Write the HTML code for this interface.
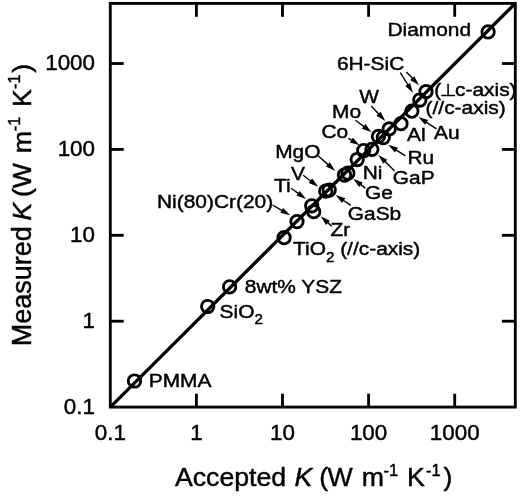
<!DOCTYPE html>
<html><head><meta charset="utf-8"><title>Measured K vs Accepted K</title>
<style>html,body{margin:0;padding:0;background:#fff}svg{display:block}text{font-family:"Liberation Sans",Arial,sans-serif;fill:#000;stroke:#000;stroke-width:0.45px;stroke-linejoin:round}</style>
</head><body>
<svg width="520" height="496" viewBox="0 0 520 496">
<rect width="520" height="496" fill="#fff"/>
<defs><filter id="soft" x="-2%" y="-2%" width="104%" height="104%"><feGaussianBlur stdDeviation="0.45"/></filter></defs>
<g filter="url(#soft)">
<line x1="110.3" y1="407.1" x2="515.3" y2="3.4" stroke="#000" stroke-width="3.3"/>
<rect x="110.3" y="3.4" width="404.99999999999994" height="403.70000000000005" fill="none" stroke="#000" stroke-width="2.85"/>
<line x1="196.40" y1="407.1" x2="196.40" y2="393.70000000000005" stroke="#000" stroke-width="2.85"/>
<line x1="196.40" y1="3.4" x2="196.40" y2="16.8" stroke="#000" stroke-width="2.85"/>
<line x1="110.3" y1="321.20" x2="123.7" y2="321.20" stroke="#000" stroke-width="2.85"/>
<line x1="515.3" y1="321.20" x2="501.9" y2="321.20" stroke="#000" stroke-width="2.85"/>
<line x1="282.50" y1="407.1" x2="282.50" y2="393.70000000000005" stroke="#000" stroke-width="2.85"/>
<line x1="282.50" y1="3.4" x2="282.50" y2="16.8" stroke="#000" stroke-width="2.85"/>
<line x1="110.3" y1="235.30" x2="123.7" y2="235.30" stroke="#000" stroke-width="2.85"/>
<line x1="515.3" y1="235.30" x2="501.9" y2="235.30" stroke="#000" stroke-width="2.85"/>
<line x1="368.60" y1="407.1" x2="368.60" y2="393.70000000000005" stroke="#000" stroke-width="2.85"/>
<line x1="368.60" y1="3.4" x2="368.60" y2="16.8" stroke="#000" stroke-width="2.85"/>
<line x1="110.3" y1="149.40" x2="123.7" y2="149.40" stroke="#000" stroke-width="2.85"/>
<line x1="515.3" y1="149.40" x2="501.9" y2="149.40" stroke="#000" stroke-width="2.85"/>
<line x1="454.70" y1="407.1" x2="454.70" y2="393.70000000000005" stroke="#000" stroke-width="2.85"/>
<line x1="454.70" y1="3.4" x2="454.70" y2="16.8" stroke="#000" stroke-width="2.85"/>
<line x1="110.3" y1="63.50" x2="123.7" y2="63.50" stroke="#000" stroke-width="2.85"/>
<line x1="515.3" y1="63.50" x2="501.9" y2="63.50" stroke="#000" stroke-width="2.85"/>
<text x="110.30" y="440" font-size="22.4" text-anchor="middle">0.1</text>
<text x="95" y="413.90" font-size="22.4" text-anchor="end">0.1</text>
<text x="196.40" y="440" font-size="22.4" text-anchor="middle">1</text>
<text x="95" y="328.00" font-size="22.4" text-anchor="end">1</text>
<text x="282.50" y="440" font-size="22.4" text-anchor="middle">10</text>
<text x="95" y="242.10" font-size="22.4" text-anchor="end">10</text>
<text x="368.60" y="440" font-size="22.4" text-anchor="middle">100</text>
<text x="95" y="156.20" font-size="22.4" text-anchor="end">100</text>
<text x="454.70" y="440" font-size="22.4" text-anchor="middle">1000</text>
<text x="95" y="70.30" font-size="22.4" text-anchor="end">1000</text>
<text transform="translate(174.9,486.4)" font-size="26.7"><tspan x="0.0" y="0" font-size="26.7">Accepted </tspan><tspan x="119.5" y="0" font-size="26.7" font-style="italic">K </tspan><tspan x="144.3" y="0" font-size="26.7">(</tspan><tspan x="152.6" y="0" font-size="26.7">W </tspan><tspan x="186.9" y="0" font-size="26.7">m</tspan><tspan x="208.5" y="-10.9" font-size="16.5">-1 </tspan><tspan x="232.0" y="0" font-size="26.7">K</tspan><tspan x="251.0" y="-10.9" font-size="16.5">-1</tspan><tspan x="268.5" y="0" font-size="26.7">)</tspan></text>
<text transform="translate(30.9,346.3) rotate(-90)" font-size="26.7"><tspan x="0.0" y="0" font-size="27.0">Measured </tspan><tspan x="125.9" y="0" font-size="26.7" font-style="italic">K </tspan><tspan x="149.2" y="0" font-size="26.7">(</tspan><tspan x="158.0" y="0" font-size="26.7">W </tspan><tspan x="193.0" y="0" font-size="26.7">m</tspan><tspan x="215.1" y="-10.9" font-size="16.5">-1 </tspan><tspan x="239.4" y="0" font-size="26.7">K</tspan><tspan x="257.2" y="-10.9" font-size="16.5">-1</tspan><tspan x="273.5" y="0" font-size="26.7">)</tspan></text>
<circle cx="488.1" cy="31.9" r="6.2" fill="none" stroke="#000" stroke-width="2.85"/>
<circle cx="426" cy="91.7" r="6.2" fill="none" stroke="#000" stroke-width="2.85"/>
<circle cx="419.8" cy="100" r="6.2" fill="none" stroke="#000" stroke-width="2.85"/>
<circle cx="411.9" cy="111.1" r="6.2" fill="none" stroke="#000" stroke-width="2.85"/>
<circle cx="401" cy="123.7" r="6.2" fill="none" stroke="#000" stroke-width="2.85"/>
<circle cx="389.2" cy="128.9" r="6.2" fill="none" stroke="#000" stroke-width="2.85"/>
<circle cx="378.4" cy="136.4" r="6.2" fill="none" stroke="#000" stroke-width="2.85"/>
<circle cx="383.3" cy="137.6" r="6.2" fill="none" stroke="#000" stroke-width="2.85"/>
<circle cx="363.7" cy="150.6" r="6.2" fill="none" stroke="#000" stroke-width="2.85"/>
<circle cx="371.9" cy="149.3" r="6.2" fill="none" stroke="#000" stroke-width="2.85"/>
<circle cx="357.2" cy="159.5" r="6.2" fill="none" stroke="#000" stroke-width="2.85"/>
<circle cx="347.9" cy="173.2" r="6.2" fill="none" stroke="#000" stroke-width="2.85"/>
<circle cx="344.5" cy="175" r="6.2" fill="none" stroke="#000" stroke-width="2.85"/>
<circle cx="329.2" cy="190" r="6.2" fill="none" stroke="#000" stroke-width="2.85"/>
<circle cx="325.7" cy="191.2" r="6.2" fill="none" stroke="#000" stroke-width="2.85"/>
<circle cx="311.7" cy="205.8" r="6.2" fill="none" stroke="#000" stroke-width="2.85"/>
<circle cx="313.7" cy="211.7" r="6.2" fill="none" stroke="#000" stroke-width="2.85"/>
<circle cx="297" cy="221.6" r="6.2" fill="none" stroke="#000" stroke-width="2.85"/>
<circle cx="284.1" cy="237.7" r="6.2" fill="none" stroke="#000" stroke-width="2.85"/>
<circle cx="229.6" cy="286.9" r="6.2" fill="none" stroke="#000" stroke-width="2.85"/>
<circle cx="207.7" cy="306.5" r="6.2" fill="none" stroke="#000" stroke-width="2.85"/>
<circle cx="134.5" cy="381" r="6.2" fill="none" stroke="#000" stroke-width="2.85"/>
<line x1="400.3" y1="72.7" x2="408.21" y2="85.25" stroke="#000" stroke-width="1.4"/>
<polygon points="412.90,92.70 405.26,85.93 410.09,82.89" fill="#000"/>
<line x1="406.4" y1="71.9" x2="412.95" y2="78.81" stroke="#000" stroke-width="1.4"/>
<polygon points="419.00,85.20 410.19,80.05 414.33,76.13" fill="#000"/>
<line x1="436.5" y1="128.9" x2="425.77" y2="121.91" stroke="#000" stroke-width="1.4"/>
<polygon points="418.40,117.10 428.17,120.06 425.05,124.84" fill="#000"/>
<line x1="371.2" y1="106.1" x2="379.23" y2="114.53" stroke="#000" stroke-width="1.4"/>
<polygon points="385.30,120.90 376.48,115.77 380.60,111.84" fill="#000"/>
<line x1="355.4" y1="120.2" x2="364.53" y2="126.96" stroke="#000" stroke-width="1.4"/>
<polygon points="371.60,132.20 362.03,128.66 365.42,124.08" fill="#000"/>
<line x1="348.4" y1="138.3" x2="352.22" y2="140.67" stroke="#000" stroke-width="1.4"/>
<polygon points="359.70,145.30 349.87,142.56 352.87,137.72" fill="#000"/>
<line x1="405.4" y1="155.8" x2="395.61" y2="149.54" stroke="#000" stroke-width="1.4"/>
<polygon points="388.20,144.80 397.99,147.68 394.92,152.48" fill="#000"/>
<line x1="394.6" y1="170.9" x2="384.58" y2="161.06" stroke="#000" stroke-width="1.4"/>
<polygon points="378.30,154.90 387.29,159.73 383.30,163.80" fill="#000"/>
<line x1="365.3" y1="188.1" x2="360.15" y2="184.10" stroke="#000" stroke-width="1.4"/>
<polygon points="353.20,178.70 362.69,182.46 359.19,186.96" fill="#000"/>
<line x1="318.4" y1="156" x2="328.64" y2="165.14" stroke="#000" stroke-width="1.4"/>
<polygon points="335.20,171.00 325.99,166.60 329.79,162.35" fill="#000"/>
<line x1="303.2" y1="175.3" x2="311.22" y2="181.45" stroke="#000" stroke-width="1.4"/>
<polygon points="318.20,186.80 308.69,183.10 312.16,178.58" fill="#000"/>
<line x1="291" y1="188.2" x2="298.86" y2="193.86" stroke="#000" stroke-width="1.4"/>
<polygon points="306.00,199.00 296.38,195.59 299.71,190.96" fill="#000"/>
<line x1="272.5" y1="205" x2="282.59" y2="210.87" stroke="#000" stroke-width="1.4"/>
<polygon points="290.20,215.30 280.30,212.83 283.16,207.91" fill="#000"/>
<line x1="350.8" y1="205.4" x2="342.86" y2="199.97" stroke="#000" stroke-width="1.4"/>
<polygon points="335.60,195.00 345.30,198.18 342.08,202.89" fill="#000"/>
<line x1="331.8" y1="226.3" x2="327.21" y2="222.12" stroke="#000" stroke-width="1.4"/>
<polygon points="320.70,216.20 329.87,220.69 326.03,224.90" fill="#000"/>
<text transform="translate(387.4,36.4) scale(1.1,1)" font-size="19.0">Diamond</text>
<text transform="translate(336.9,70) scale(1.1,1)" font-size="19.0">6H-SiC</text>
<text transform="translate(434.3,96.1) scale(1.1,1)" font-size="19.0">(<tspan font-size="17.5" dx="-1.4">⊥</tspan><tspan dx="-1.3">c-axis)</tspan></text>
<text transform="translate(425.6,114) scale(1.1,1)" font-size="19.0">(//c-axis)</text>
<text transform="translate(434.1,139.3) scale(1.1,1)" font-size="19.0">Au</text>
<text transform="translate(407,140.8) scale(1.1,1)" font-size="19.0">Al</text>
<text transform="translate(359.3,103.3) scale(1.1,1)" font-size="19.0">W</text>
<text transform="translate(332,118.1) scale(1.1,1)" font-size="19.0">Mo</text>
<text transform="translate(321.5,138.4) scale(1.1,1)" font-size="19.0">Co</text>
<text transform="translate(407.5,163.8) scale(1.1,1)" font-size="19.0">Ru</text>
<text transform="translate(392.8,184.3) scale(1.1,1)" font-size="19.0">GaP</text>
<text transform="translate(362.7,179.3) scale(1.1,1)" font-size="19.0">Ni</text>
<text transform="translate(365,199) scale(1.1,1)" font-size="19.0">Ge</text>
<text transform="translate(275.2,157.7) scale(1.1,1)" font-size="19.0">MgO</text>
<text transform="translate(291,179.8) scale(1.1,1)" font-size="19.0">V</text>
<text transform="translate(274,191.5) scale(1.1,1)" font-size="19.0">Ti</text>
<text transform="translate(347.8,219.9) scale(1.1,1)" font-size="19.0">GaSb</text>
<text transform="translate(330.4,236.2) scale(1.1,1)" font-size="19.0">Zr</text>
<text transform="translate(157,208) scale(1.1,1)" font-size="19.0">Ni(80)Cr(20)</text>
<text transform="translate(244.8,292.6) scale(1.1,1)" font-size="19.0">8wt% YSZ</text>
<text transform="translate(148.7,386.9) scale(1.1,1)" font-size="19.0">PMMA</text>
<text transform="translate(293,255.4) scale(1.1,1)" font-size="19.0">TiO<tspan font-size="13.8" dy="6.1">2</tspan><tspan dy="-6.1"> (//c-axis)</tspan></text>
<text transform="translate(219.6,317.7) scale(1.1,1)" font-size="19.0">SiO<tspan font-size="13.8" dy="6.1">2</tspan></text>
</g>
</svg></body></html>
